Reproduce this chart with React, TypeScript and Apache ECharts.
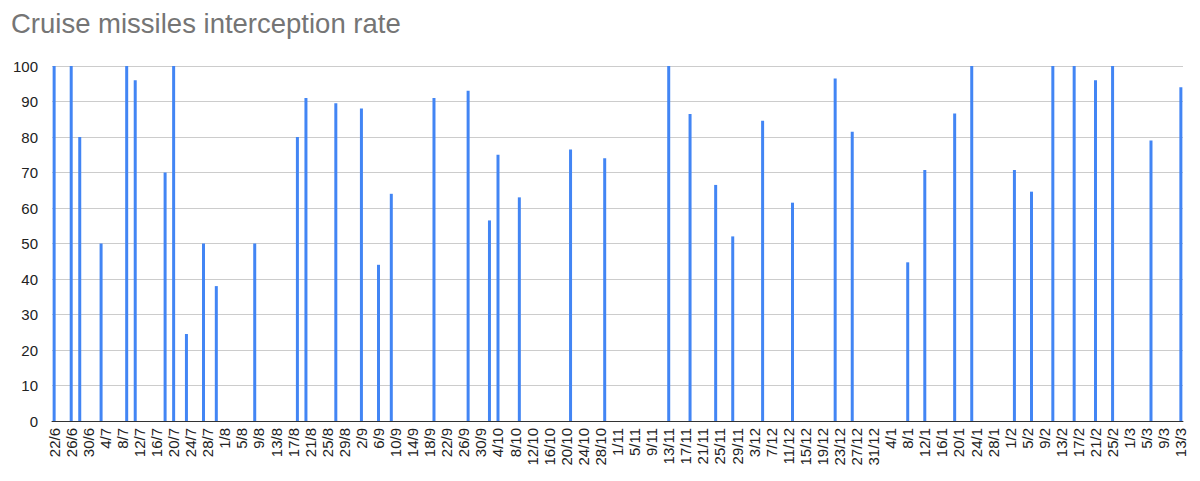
import React, { useEffect, useRef } from "react";
import * as echarts from "echarts";

const TITLE = "Cruise missiles interception rate";
const START = { y: 2022, m: 6, d: 22 };
const DAY_COUNT = 265;

const barDates = [
  "22/6", "26/6", "28/6", "3/7", "9/7", "11/7", "18/7", "20/7", "23/7", "27/7",
  "30/7", "8/8", "18/8", "20/8", "27/8", "2/9", "6/9", "9/9", "19/9", "27/9",
  "2/10", "4/10", "9/10", "21/10", "29/10", "13/11", "18/11", "24/11", "28/11", "5/12",
  "12/12", "22/12", "26/12", "8/1", "12/1", "19/1", "23/1", "2/2", "6/2", "11/2",
  "16/2", "21/2", "25/2", "6/3", "13/3",
];
const barValues = [
  100, 100, 80, 50, 100, 96, 70, 100, 24.5, 50,
  38, 50, 80, 91, 89.5, 88, 44, 64, 91, 93,
  56.5, 75, 63, 76.5, 74, 100, 86.5, 66.5, 52, 84.6,
  61.5, 96.5, 81.5, 44.7, 70.7, 86.6, 100, 70.7, 64.6, 100,
  100, 96, 100, 79, 94,
];

function buildCategories(): string[] {
  const out: string[] = [];
  const base = Date.UTC(START.y, START.m - 1, START.d);
  for (let i = 0; i < DAY_COUNT; i++) {
    const dt = new Date(base + i * 86400000);
    out.push(`${dt.getUTCDate()}/${dt.getUTCMonth() + 1}`);
  }
  return out;
}

const FONT = "'Liberation Sans', Arial, Helvetica, sans-serif";

export default function App() {
  const ref = useRef<HTMLDivElement>(null);
  useEffect(() => {
    if (!ref.current) return;
    const chart = echarts.init(ref.current, undefined, { renderer: "svg" });
    const categories = buildCategories();
    const lookup: Record<string, number> = {};
    barDates.forEach((d, i) => (lookup[d] = barValues[i]));
    const data = categories.map((c) => (c in lookup ? lookup[c] : null));
    chart.setOption({
      animation: false,
      backgroundColor: "#ffffff",
      textStyle: { fontFamily: FONT },
      title: {
        text: TITLE,
        left: 11,
        top: 9,
        padding: 0,
        textStyle: { fontFamily: FONT, fontSize: 27.5, fontWeight: "normal", color: "#757575" },
      },
      grid: { left: 52, right: 17, top: 66, bottom: 60 },
      xAxis: {
        type: "category",
        data: categories,
        boundaryGap: true,
        axisLine: { show: true, lineStyle: { color: "#333333", width: 1 } },
        axisTick: { show: false },
        axisLabel: {
          interval: 3,
          rotate: 90,
          margin: 7,
          fontSize: 15,
          color: "#222222",
          fontFamily: FONT,
        },
        splitLine: { show: false },
      },
      yAxis: {
        type: "value",
        min: 0,
        max: 100,
        interval: 10,
        axisLine: { show: false },
        axisTick: { show: false },
        axisLabel: { fontSize: 15, color: "#222222", margin: 14, fontFamily: FONT },
        splitLine: { lineStyle: { color: "#cccccc", width: 1 } },
      },
      series: [
        {
          type: "bar",
          data,
          barWidth: 3,
          itemStyle: { color: "#4285F4" },
        },
      ],
    });
    return () => chart.dispose();
  }, []);
  return (
    <div
      ref={ref}
      style={{ position: "fixed", left: 0, top: 0, width: 1200, height: 481, background: "#fff" }}
    />
  );
}
